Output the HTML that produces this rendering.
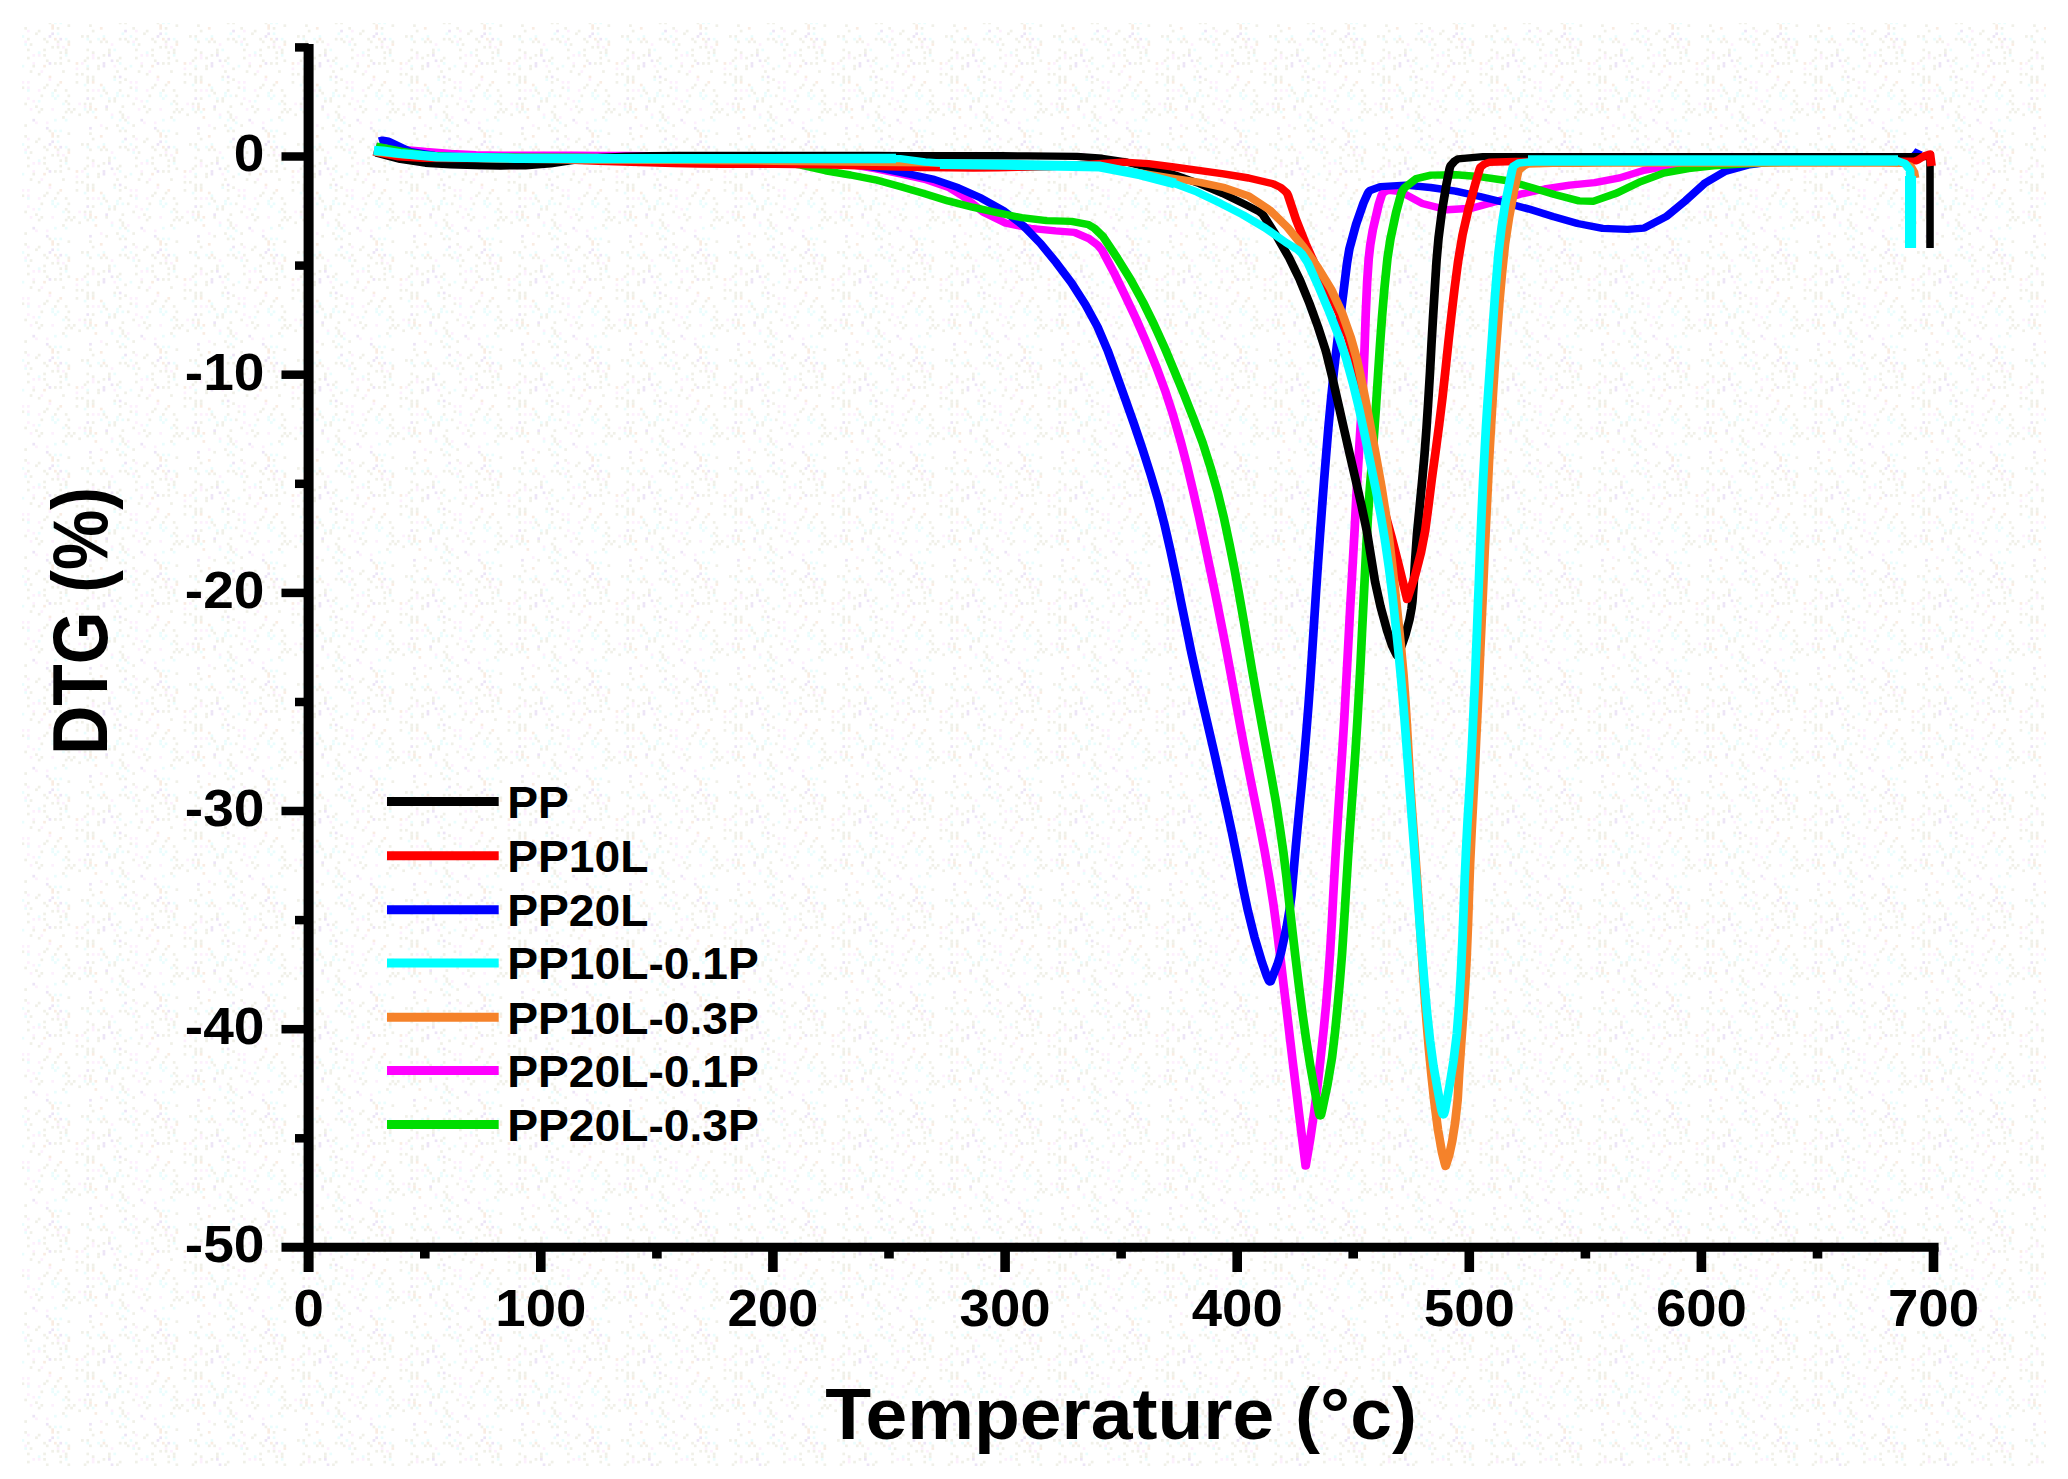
<!DOCTYPE html>
<html lang="en"><head><meta charset="utf-8"><title>DTG curves</title>
<style>
html,body{margin:0;padding:0;background:#fff;}
body{width:2068px;height:1479px;overflow:hidden;}
svg{display:block;}
</style></head><body>
<svg width="2068" height="1479" viewBox="0 0 2068 1479">
<defs><pattern id="dots" width="108.0" height="108.0" patternUnits="userSpaceOnUse"><rect x="29.7" y="0.0" width="2.7" height="2.7" fill="#fdf0fd"/><rect x="40.5" y="0.0" width="2.7" height="2.7" fill="#f0f0e8"/><rect x="51.3" y="0.0" width="2.7" height="2.7" fill="#fdf0fd"/><rect x="67.5" y="0.0" width="2.7" height="2.7" fill="#f0f0e8"/><rect x="72.9" y="0.0" width="2.7" height="2.7" fill="#f0f0e8"/><rect x="83.7" y="0.0" width="2.7" height="2.7" fill="#eafdfd"/><rect x="89.1" y="0.0" width="2.7" height="2.7" fill="#f0f0e8"/><rect x="94.5" y="0.0" width="2.7" height="2.7" fill="#f9ece2"/><rect x="105.3" y="0.0" width="2.7" height="2.7" fill="#f0f0e8"/><rect x="10.8" y="2.7" width="2.7" height="2.7" fill="#f0f0e8"/><rect x="37.8" y="2.7" width="2.7" height="2.7" fill="#f0f0e8"/><rect x="64.8" y="2.7" width="2.7" height="2.7" fill="#f0f0e8"/><rect x="70.2" y="2.7" width="2.7" height="2.7" fill="#f0f0e8"/><rect x="86.4" y="2.7" width="2.7" height="2.7" fill="#f0f0e8"/><rect x="91.8" y="2.7" width="2.7" height="2.7" fill="#eafdfd"/><rect x="2.7" y="5.4" width="2.7" height="2.7" fill="#fdf0fd"/><rect x="13.5" y="5.4" width="2.7" height="2.7" fill="#f0f0e8"/><rect x="78.3" y="5.4" width="2.7" height="2.7" fill="#f0f0e8"/><rect x="2.7" y="8.1" width="2.7" height="2.7" fill="#eafdfd"/><rect x="13.5" y="8.1" width="2.7" height="2.7" fill="#f0f0e8"/><rect x="18.9" y="8.1" width="2.7" height="2.7" fill="#fdf0fd"/><rect x="62.1" y="8.1" width="2.7" height="2.7" fill="#f0f0e8"/><rect x="94.5" y="8.1" width="2.7" height="2.7" fill="#f9ece2"/><rect x="10.8" y="10.8" width="2.7" height="2.7" fill="#eafdfd"/><rect x="16.2" y="10.8" width="2.7" height="2.7" fill="#f0f0e8"/><rect x="32.4" y="10.8" width="2.7" height="2.7" fill="#ece4f6"/><rect x="54.0" y="10.8" width="2.7" height="2.7" fill="#eafdfd"/><rect x="64.8" y="10.8" width="2.7" height="2.7" fill="#eafdfd"/><rect x="18.9" y="13.5" width="2.7" height="2.7" fill="#eafdfd"/><rect x="35.1" y="13.5" width="2.7" height="2.7" fill="#fdf0fd"/><rect x="45.9" y="13.5" width="2.7" height="2.7" fill="#fdf0fd"/><rect x="8.1" y="16.2" width="2.7" height="2.7" fill="#f0f0e8"/><rect x="24.3" y="16.2" width="2.7" height="2.7" fill="#f0f0e8"/><rect x="99.9" y="16.2" width="2.7" height="2.7" fill="#fdf0fd"/><rect x="13.5" y="18.9" width="2.7" height="2.7" fill="#eafdfd"/><rect x="45.9" y="18.9" width="2.7" height="2.7" fill="#ece4f6"/><rect x="89.1" y="18.9" width="2.7" height="2.7" fill="#ece4f6"/><rect x="105.3" y="18.9" width="2.7" height="2.7" fill="#f0f0e8"/><rect x="10.8" y="21.6" width="2.7" height="2.7" fill="#f0f0e8"/><rect x="16.2" y="21.6" width="2.7" height="2.7" fill="#f0f0e8"/><rect x="48.6" y="21.6" width="2.7" height="2.7" fill="#f0f0e8"/><rect x="54.0" y="21.6" width="2.7" height="2.7" fill="#eafdfd"/><rect x="59.4" y="21.6" width="2.7" height="2.7" fill="#eafdfd"/><rect x="51.3" y="24.3" width="2.7" height="2.7" fill="#f9ece2"/><rect x="67.5" y="24.3" width="2.7" height="2.7" fill="#f0f0e8"/><rect x="89.1" y="24.3" width="2.7" height="2.7" fill="#f0f0e8"/><rect x="24.3" y="27.0" width="2.7" height="2.7" fill="#f0f0e8"/><rect x="51.3" y="27.0" width="2.7" height="2.7" fill="#f9ece2"/><rect x="56.7" y="27.0" width="2.7" height="2.7" fill="#f0f0e8"/><rect x="99.9" y="27.0" width="2.7" height="2.7" fill="#f9ece2"/><rect x="16.2" y="29.7" width="2.7" height="2.7" fill="#ece4f6"/><rect x="27.0" y="29.7" width="2.7" height="2.7" fill="#fdf0fd"/><rect x="37.8" y="29.7" width="2.7" height="2.7" fill="#f0f0e8"/><rect x="91.8" y="29.7" width="2.7" height="2.7" fill="#f0f0e8"/><rect x="13.5" y="32.4" width="2.7" height="2.7" fill="#eafdfd"/><rect x="35.1" y="32.4" width="2.7" height="2.7" fill="#f0f0e8"/><rect x="51.3" y="32.4" width="2.7" height="2.7" fill="#ece4f6"/><rect x="56.7" y="32.4" width="2.7" height="2.7" fill="#eafdfd"/><rect x="21.6" y="35.1" width="2.7" height="2.7" fill="#eafdfd"/><rect x="48.6" y="35.1" width="2.7" height="2.7" fill="#ece4f6"/><rect x="81.0" y="35.1" width="2.7" height="2.7" fill="#f0f0e8"/><rect x="86.4" y="35.1" width="2.7" height="2.7" fill="#f0f0e8"/><rect x="102.6" y="35.1" width="2.7" height="2.7" fill="#eafdfd"/><rect x="10.8" y="37.8" width="2.7" height="2.7" fill="#f0f0e8"/><rect x="16.2" y="37.8" width="2.7" height="2.7" fill="#f0f0e8"/><rect x="27.0" y="37.8" width="2.7" height="2.7" fill="#f0f0e8"/><rect x="43.2" y="37.8" width="2.7" height="2.7" fill="#f0f0e8"/><rect x="54.0" y="37.8" width="2.7" height="2.7" fill="#f9ece2"/><rect x="59.4" y="37.8" width="2.7" height="2.7" fill="#ece4f6"/><rect x="64.8" y="37.8" width="2.7" height="2.7" fill="#eafdfd"/><rect x="86.4" y="37.8" width="2.7" height="2.7" fill="#eafdfd"/><rect x="97.2" y="37.8" width="2.7" height="2.7" fill="#eafdfd"/><rect x="102.6" y="37.8" width="2.7" height="2.7" fill="#f9ece2"/><rect x="18.9" y="40.5" width="2.7" height="2.7" fill="#f0f0e8"/><rect x="24.3" y="40.5" width="2.7" height="2.7" fill="#fdf0fd"/><rect x="45.9" y="40.5" width="2.7" height="2.7" fill="#f0f0e8"/><rect x="56.7" y="40.5" width="2.7" height="2.7" fill="#f0f0e8"/><rect x="67.5" y="40.5" width="2.7" height="2.7" fill="#f0f0e8"/><rect x="89.1" y="40.5" width="2.7" height="2.7" fill="#f0f0e8"/><rect x="99.9" y="40.5" width="2.7" height="2.7" fill="#f0f0e8"/><rect x="105.3" y="40.5" width="2.7" height="2.7" fill="#f0f0e8"/><rect x="2.7" y="43.2" width="2.7" height="2.7" fill="#fdf0fd"/><rect x="24.3" y="43.2" width="2.7" height="2.7" fill="#eafdfd"/><rect x="29.7" y="43.2" width="2.7" height="2.7" fill="#f0f0e8"/><rect x="56.7" y="43.2" width="2.7" height="2.7" fill="#fdf0fd"/><rect x="67.5" y="43.2" width="2.7" height="2.7" fill="#f9ece2"/><rect x="51.3" y="45.9" width="2.7" height="2.7" fill="#f0f0e8"/><rect x="56.7" y="45.9" width="2.7" height="2.7" fill="#f0f0e8"/><rect x="62.1" y="45.9" width="2.7" height="2.7" fill="#fdf0fd"/><rect x="0.0" y="48.6" width="2.7" height="2.7" fill="#f0f0e8"/><rect x="5.4" y="48.6" width="2.7" height="2.7" fill="#eafdfd"/><rect x="27.0" y="48.6" width="2.7" height="2.7" fill="#f0f0e8"/><rect x="43.2" y="48.6" width="2.7" height="2.7" fill="#f0f0e8"/><rect x="64.8" y="48.6" width="2.7" height="2.7" fill="#f0f0e8"/><rect x="86.4" y="48.6" width="2.7" height="2.7" fill="#f0f0e8"/><rect x="0.0" y="51.3" width="2.7" height="2.7" fill="#f0f0e8"/><rect x="37.8" y="51.3" width="2.7" height="2.7" fill="#eafdfd"/><rect x="59.4" y="51.3" width="2.7" height="2.7" fill="#f0f0e8"/><rect x="64.8" y="51.3" width="2.7" height="2.7" fill="#f0f0e8"/><rect x="91.8" y="51.3" width="2.7" height="2.7" fill="#f0f0e8"/><rect x="0.0" y="54.0" width="2.7" height="2.7" fill="#ece4f6"/><rect x="32.4" y="54.0" width="2.7" height="2.7" fill="#fdf0fd"/><rect x="37.8" y="54.0" width="2.7" height="2.7" fill="#fdf0fd"/><rect x="43.2" y="54.0" width="2.7" height="2.7" fill="#f0f0e8"/><rect x="64.8" y="54.0" width="2.7" height="2.7" fill="#eafdfd"/><rect x="91.8" y="54.0" width="2.7" height="2.7" fill="#fdf0fd"/><rect x="102.6" y="54.0" width="2.7" height="2.7" fill="#f0f0e8"/><rect x="10.8" y="56.7" width="2.7" height="2.7" fill="#f0f0e8"/><rect x="27.0" y="56.7" width="2.7" height="2.7" fill="#f0f0e8"/><rect x="59.4" y="56.7" width="2.7" height="2.7" fill="#f0f0e8"/><rect x="86.4" y="56.7" width="2.7" height="2.7" fill="#f0f0e8"/><rect x="91.8" y="56.7" width="2.7" height="2.7" fill="#fdf0fd"/><rect x="97.2" y="56.7" width="2.7" height="2.7" fill="#f0f0e8"/><rect x="2.7" y="59.4" width="2.7" height="2.7" fill="#ece4f6"/><rect x="8.1" y="59.4" width="2.7" height="2.7" fill="#f0f0e8"/><rect x="45.9" y="59.4" width="2.7" height="2.7" fill="#f0f0e8"/><rect x="67.5" y="59.4" width="2.7" height="2.7" fill="#f0f0e8"/><rect x="83.7" y="59.4" width="2.7" height="2.7" fill="#f0f0e8"/><rect x="10.8" y="62.1" width="2.7" height="2.7" fill="#eafdfd"/><rect x="32.4" y="62.1" width="2.7" height="2.7" fill="#fdf0fd"/><rect x="48.6" y="62.1" width="2.7" height="2.7" fill="#ece4f6"/><rect x="54.0" y="62.1" width="2.7" height="2.7" fill="#f0f0e8"/><rect x="59.4" y="62.1" width="2.7" height="2.7" fill="#f0f0e8"/><rect x="75.6" y="62.1" width="2.7" height="2.7" fill="#f9ece2"/><rect x="81.0" y="62.1" width="2.7" height="2.7" fill="#fdf0fd"/><rect x="102.6" y="62.1" width="2.7" height="2.7" fill="#ece4f6"/><rect x="5.4" y="64.8" width="2.7" height="2.7" fill="#fdf0fd"/><rect x="21.6" y="64.8" width="2.7" height="2.7" fill="#eafdfd"/><rect x="32.4" y="64.8" width="2.7" height="2.7" fill="#f0f0e8"/><rect x="43.2" y="64.8" width="2.7" height="2.7" fill="#f9ece2"/><rect x="86.4" y="64.8" width="2.7" height="2.7" fill="#eafdfd"/><rect x="97.2" y="64.8" width="2.7" height="2.7" fill="#f0f0e8"/><rect x="102.6" y="64.8" width="2.7" height="2.7" fill="#ece4f6"/><rect x="16.2" y="67.5" width="2.7" height="2.7" fill="#f0f0e8"/><rect x="75.6" y="67.5" width="2.7" height="2.7" fill="#fdf0fd"/><rect x="86.4" y="67.5" width="2.7" height="2.7" fill="#f0f0e8"/><rect x="97.2" y="67.5" width="2.7" height="2.7" fill="#f0f0e8"/><rect x="8.1" y="70.2" width="2.7" height="2.7" fill="#f0f0e8"/><rect x="29.7" y="70.2" width="2.7" height="2.7" fill="#f0f0e8"/><rect x="40.5" y="70.2" width="2.7" height="2.7" fill="#fdf0fd"/><rect x="62.1" y="70.2" width="2.7" height="2.7" fill="#f0f0e8"/><rect x="37.8" y="72.9" width="2.7" height="2.7" fill="#f0f0e8"/><rect x="75.6" y="72.9" width="2.7" height="2.7" fill="#f0f0e8"/><rect x="81.0" y="72.9" width="2.7" height="2.7" fill="#f0f0e8"/><rect x="5.4" y="75.6" width="2.7" height="2.7" fill="#f0f0e8"/><rect x="10.8" y="75.6" width="2.7" height="2.7" fill="#ece4f6"/><rect x="48.6" y="75.6" width="2.7" height="2.7" fill="#f9ece2"/><rect x="86.4" y="75.6" width="2.7" height="2.7" fill="#f0f0e8"/><rect x="91.8" y="75.6" width="2.7" height="2.7" fill="#f0f0e8"/><rect x="5.4" y="78.3" width="2.7" height="2.7" fill="#eafdfd"/><rect x="16.2" y="78.3" width="2.7" height="2.7" fill="#f0f0e8"/><rect x="48.6" y="78.3" width="2.7" height="2.7" fill="#fdf0fd"/><rect x="86.4" y="78.3" width="2.7" height="2.7" fill="#f0f0e8"/><rect x="91.8" y="78.3" width="2.7" height="2.7" fill="#f0f0e8"/><rect x="10.8" y="81.0" width="2.7" height="2.7" fill="#f0f0e8"/><rect x="21.6" y="81.0" width="2.7" height="2.7" fill="#fdf0fd"/><rect x="27.0" y="81.0" width="2.7" height="2.7" fill="#fdf0fd"/><rect x="59.4" y="81.0" width="2.7" height="2.7" fill="#f9ece2"/><rect x="75.6" y="81.0" width="2.7" height="2.7" fill="#f0f0e8"/><rect x="86.4" y="81.0" width="2.7" height="2.7" fill="#f0f0e8"/><rect x="91.8" y="81.0" width="2.7" height="2.7" fill="#f9ece2"/><rect x="45.9" y="83.7" width="2.7" height="2.7" fill="#f0f0e8"/><rect x="56.7" y="83.7" width="2.7" height="2.7" fill="#f0f0e8"/><rect x="83.7" y="83.7" width="2.7" height="2.7" fill="#eafdfd"/><rect x="99.9" y="83.7" width="2.7" height="2.7" fill="#f9ece2"/><rect x="21.6" y="86.4" width="2.7" height="2.7" fill="#f0f0e8"/><rect x="27.0" y="86.4" width="2.7" height="2.7" fill="#fdf0fd"/><rect x="43.2" y="86.4" width="2.7" height="2.7" fill="#f0f0e8"/><rect x="102.6" y="86.4" width="2.7" height="2.7" fill="#eafdfd"/><rect x="10.8" y="89.1" width="2.7" height="2.7" fill="#f0f0e8"/><rect x="27.0" y="89.1" width="2.7" height="2.7" fill="#eafdfd"/><rect x="37.8" y="89.1" width="2.7" height="2.7" fill="#fdf0fd"/><rect x="54.0" y="89.1" width="2.7" height="2.7" fill="#f0f0e8"/><rect x="64.8" y="89.1" width="2.7" height="2.7" fill="#f0f0e8"/><rect x="86.4" y="89.1" width="2.7" height="2.7" fill="#f0f0e8"/><rect x="91.8" y="89.1" width="2.7" height="2.7" fill="#fdf0fd"/><rect x="97.2" y="89.1" width="2.7" height="2.7" fill="#fdf0fd"/><rect x="102.6" y="89.1" width="2.7" height="2.7" fill="#f0f0e8"/><rect x="8.1" y="91.8" width="2.7" height="2.7" fill="#eafdfd"/><rect x="51.3" y="91.8" width="2.7" height="2.7" fill="#eafdfd"/><rect x="105.3" y="91.8" width="2.7" height="2.7" fill="#f0f0e8"/><rect x="8.1" y="94.5" width="2.7" height="2.7" fill="#eafdfd"/><rect x="13.5" y="94.5" width="2.7" height="2.7" fill="#eafdfd"/><rect x="18.9" y="94.5" width="2.7" height="2.7" fill="#f0f0e8"/><rect x="40.5" y="94.5" width="2.7" height="2.7" fill="#f0f0e8"/><rect x="51.3" y="94.5" width="2.7" height="2.7" fill="#eafdfd"/><rect x="56.7" y="94.5" width="2.7" height="2.7" fill="#eafdfd"/><rect x="67.5" y="94.5" width="2.7" height="2.7" fill="#f0f0e8"/><rect x="99.9" y="94.5" width="2.7" height="2.7" fill="#eafdfd"/><rect x="0.0" y="97.2" width="2.7" height="2.7" fill="#eafdfd"/><rect x="5.4" y="97.2" width="2.7" height="2.7" fill="#f0f0e8"/><rect x="27.0" y="97.2" width="2.7" height="2.7" fill="#fdf0fd"/><rect x="54.0" y="97.2" width="2.7" height="2.7" fill="#eafdfd"/><rect x="86.4" y="97.2" width="2.7" height="2.7" fill="#ece4f6"/><rect x="91.8" y="97.2" width="2.7" height="2.7" fill="#f0f0e8"/><rect x="0.0" y="99.9" width="2.7" height="2.7" fill="#f0f0e8"/><rect x="5.4" y="99.9" width="2.7" height="2.7" fill="#f0f0e8"/><rect x="32.4" y="99.9" width="2.7" height="2.7" fill="#fdf0fd"/><rect x="37.8" y="99.9" width="2.7" height="2.7" fill="#eafdfd"/><rect x="64.8" y="99.9" width="2.7" height="2.7" fill="#f0f0e8"/><rect x="24.3" y="102.6" width="2.7" height="2.7" fill="#f0f0e8"/><rect x="62.1" y="102.6" width="2.7" height="2.7" fill="#eafdfd"/><rect x="67.5" y="102.6" width="2.7" height="2.7" fill="#f0f0e8"/><rect x="78.3" y="102.6" width="2.7" height="2.7" fill="#fdf0fd"/><rect x="83.7" y="102.6" width="2.7" height="2.7" fill="#f0f0e8"/><rect x="89.1" y="102.6" width="2.7" height="2.7" fill="#f0f0e8"/><rect x="13.5" y="105.3" width="2.7" height="2.7" fill="#f0f0e8"/><rect x="35.1" y="105.3" width="2.7" height="2.7" fill="#f0f0e8"/><rect x="83.7" y="105.3" width="2.7" height="2.7" fill="#fdf0fd"/><rect x="89.1" y="105.3" width="2.7" height="2.7" fill="#f9ece2"/><rect x="105.3" y="105.3" width="2.7" height="2.7" fill="#ece4f6"/></pattern></defs>
<rect width="2068" height="1479" fill="#ffffff"/>
<rect x="22" y="23" width="2024" height="1443" fill="url(#dots)"/>
<g transform="scale(1.18,1)" fill="none" stroke-linejoin="round" stroke-linecap="butt" stroke-width="7.4">
<path d="M318.6,147.0 L339.8,149.1 L361.0,151.5 L382.2,153.4 L403.4,154.7 L424.6,155.1 L445.8,155.2 L466.9,155.3 L488.1,155.3 L509.3,155.4 L530.5,155.5 L551.7,155.7 L572.9,155.9 L594.1,156.1 L615.3,156.4 L636.4,156.8 L657.6,157.4 L678.8,158.0 L700.0,160.4 L721.2,164.5 L742.4,168.8 L763.1,174.0 L783.9,179.3 L804.2,187.6 L816.5,196.6 L833.5,212.2 L852.5,223.2 L873.3,228.3 L894.5,230.9 L910.6,232.4 L923.3,238.9 L930.1,244.9 L933.9,250.1 L944.1,272.7 L953.4,295.3 L962.7,318.6 L971.6,342.7 L979.7,366.2 L987.3,390.3 L994.1,414.8 L1000.4,440.5 L1005.9,465.2 L1011.0,490.4 L1016.1,516.9 L1020.8,542.5 L1025.4,568.5 L1030.1,595.0 L1034.3,619.9 L1038.6,645.7 L1042.8,672.4 L1046.6,697.0 L1050.8,724.3 L1055.0,750.7 L1059.3,776.5 L1063.5,801.4 L1067.8,826.6 L1071.9,852.1 L1075.8,878.8 L1079.2,904.5 L1082.2,930.6 L1085.2,958.7 L1087.7,984.0 L1090.3,1009.2 L1092.8,1034.3 L1095.3,1059.5 L1097.9,1084.4 L1100.8,1112.9 L1103.8,1140.9 L1106.5,1166.0 L1110.3,1139.5 L1113.7,1112.1 L1116.7,1084.5 L1119.2,1057.5 L1121.8,1029.4 L1123.9,1003.7 L1125.6,978.7 L1127.3,950.0 L1128.6,923.8 L1129.8,896.8 L1131.1,869.9 L1132.4,844.5 L1134.1,812.3 L1135.8,781.6 L1137.5,751.5 L1139.2,719.1 L1140.4,692.4 L1141.7,664.4 L1143.0,635.6 L1144.2,608.3 L1145.5,581.6 L1146.8,554.8 L1148.1,527.8 L1149.3,499.6 L1150.6,472.7 L1152.3,440.2 L1154.0,408.4 L1155.3,380.1 L1156.3,352.1 L1157.4,314.2 L1158.6,282.0 L1159.9,259.2 L1161.2,245.3 L1163.3,230.4 L1168.4,204.5 L1170.9,195.3 L1171.8,193.3 L1174.7,191.1 L1177.3,190.3 L1186.6,191.5 L1205.3,203.5 L1226.0,209.8 L1247.2,208.3 L1268.0,201.5 L1288.3,194.2 L1309.1,189.0 L1330.3,185.1 L1351.4,182.6 L1372.6,177.9 L1393.0,170.4 L1414.2,165.7 L1435.3,162.9 L1456.5,161.7 L1477.7,161.1 L1498.9,160.8 L1520.1,160.5 L1541.3,160.3 L1562.5,160.2 L1583.6,160.0 L1604.8,160.0 L1610.2,160.0" stroke="#ff00ff"/>
<path d="M321.2,141.0 L324.2,140.2 L329.2,141.1 L347.0,151.3 L368.2,155.5 L389.4,156.8 L410.6,157.3 L431.8,157.6 L453.0,157.8 L474.2,157.9 L495.3,158.0 L516.5,158.0 L537.7,158.1 L558.9,158.2 L580.1,158.4 L601.3,158.6 L622.5,158.9 L643.6,159.3 L664.8,159.9 L686.0,160.6 L707.2,162.0 L728.4,164.9 L749.6,169.1 L770.8,174.1 L791.5,179.3 L811.9,187.7 L831.4,198.1 L850.0,210.3 L866.9,225.4 L881.8,243.5 L895.3,262.9 L908.1,283.0 L919.9,304.8 L930.1,326.8 L938.6,350.2 L946.2,374.9 L953.8,399.8 L961.0,423.9 L968.2,449.0 L975.0,474.1 L981.4,499.5 L986.9,524.7 L991.9,550.5 L996.6,576.6 L1000.8,601.6 L1005.1,626.3 L1009.7,653.0 L1014.4,678.1 L1019.5,704.5 L1024.6,730.3 L1029.7,756.3 L1034.7,782.7 L1039.4,807.5 L1044.1,833.0 L1048.7,859.6 L1053.0,885.5 L1057.6,911.1 L1063.1,937.1 L1069.5,962.3 L1073.7,976.5 L1075.4,981.0 L1075.8,981.7 L1076.3,982.0 L1076.7,981.7 L1082.6,964.3 L1085.6,952.6 L1090.3,927.2 L1093.2,906.9 L1094.5,895.1 L1096.6,866.9 L1098.7,839.2 L1100.8,813.0 L1103.0,786.5 L1105.1,759.6 L1107.2,730.3 L1108.9,704.9 L1110.6,676.9 L1112.3,646.5 L1114.0,615.5 L1115.4,590.0 L1116.9,564.2 L1118.6,535.9 L1120.3,508.4 L1122.0,482.0 L1123.7,457.0 L1125.8,427.0 L1128.0,399.4 L1130.5,370.5 L1133.1,344.0 L1135.6,319.2 L1138.6,291.3 L1141.5,263.5 L1143.6,248.6 L1149.2,224.4 L1155.5,203.0 L1159.3,193.0 L1160.2,191.4 L1161.0,190.5 L1169.9,186.6 L1191.1,185.1 L1212.3,187.5 L1233.5,191.2 L1254.2,196.5 L1275.0,202.5 L1295.8,209.1 L1316.1,216.5 L1336.9,223.5 L1358.1,228.4 L1379.2,229.4 L1393.2,228.1 L1412.3,216.3 L1428.8,200.3 L1444.5,183.4 L1461.9,171.4 L1482.6,164.8 L1503.8,161.7 L1525.0,160.5 L1546.2,160.3 L1567.4,160.3 L1588.6,160.2 L1609.7,160.0 L1617.4,158.4 L1622.5,155.7 L1624.2,153.6 L1626.3,150.0" stroke="#0000ff"/>
<path d="M318.6,146.0 L339.8,151.1 L361.0,155.1 L382.2,156.5 L403.4,156.8 L424.6,157.0 L445.8,157.1 L466.9,157.1 L488.1,157.2 L509.3,157.4 L530.5,157.6 L551.7,157.8 L572.9,158.1 L594.1,158.5 L615.3,159.0 L636.4,159.7 L657.6,161.3 L678.8,165.2 L699.6,170.8 L720.8,175.0 L741.9,179.8 L762.7,186.5 L783.1,193.5 L803.4,200.9 L824.2,207.2 L844.9,212.6 L865.7,217.7 L886.9,220.6 L908.1,221.4 L922.5,224.7 L927.5,228.3 L934.7,236.5 L946.6,257.6 L958.1,279.5 L968.6,302.0 L978.0,324.5 L986.9,347.6 L995.3,371.2 L1003.4,394.4 L1011.4,418.3 L1019.1,442.4 L1025.8,467.1 L1031.8,491.8 L1037.3,518.3 L1041.9,544.0 L1046.2,569.3 L1050.0,593.9 L1053.8,619.4 L1057.6,645.9 L1061.4,672.2 L1065.3,698.1 L1069.1,722.9 L1073.3,750.0 L1077.5,777.0 L1081.4,802.8 L1084.7,828.2 L1087.7,853.0 L1090.3,877.9 L1092.6,902.8 L1095.3,931.4 L1097.9,957.6 L1100.8,986.2 L1103.8,1013.6 L1106.8,1038.8 L1110.2,1064.2 L1114.0,1089.5 L1117.8,1113.0 L1118.2,1114.9 L1118.6,1115.9 L1118.8,1116.0 L1119.1,1115.8 L1119.5,1114.9 L1120.3,1111.1 L1125.0,1084.6 L1128.8,1057.8 L1131.4,1032.0 L1133.5,1007.0 L1135.6,979.3 L1137.3,954.3 L1139.0,923.0 L1140.7,890.3 L1142.2,861.4 L1143.6,836.2 L1145.3,807.9 L1147.0,780.1 L1148.7,751.4 L1150.4,719.3 L1151.7,692.0 L1153.0,663.5 L1154.2,633.6 L1155.5,603.0 L1156.8,572.4 L1158.1,541.8 L1159.3,516.1 L1160.8,490.0 L1162.7,461.8 L1164.4,435.1 L1166.1,406.8 L1167.8,375.4 L1169.5,344.7 L1171.2,316.7 L1173.3,287.5 L1175.8,258.5 L1178.4,238.6 L1183.1,212.6 L1187.3,194.2 L1188.1,191.5 L1190.3,187.8 L1200.4,178.6 L1212.7,175.1 L1233.9,174.7 L1255.1,176.8 L1276.3,180.5 L1297.0,187.2 L1317.4,194.5 L1338.1,200.9 L1350.0,201.3 L1370.3,193.0 L1389.8,181.9 L1409.7,173.2 L1430.9,168.6 L1452.1,165.8 L1473.3,164.2 L1494.5,163.0 L1515.7,162.3 L1536.9,161.8 L1558.1,161.5 L1579.2,161.2 L1600.4,161.0 L1610.2,161.0" stroke="#00dd00"/>
<path d="M318.6,153.0 L339.4,159.4 L360.6,163.2 L381.8,164.8 L403.0,165.6 L424.2,166.0 L445.3,165.7 L466.5,163.9 L487.7,160.2 L508.9,157.4 L530.1,156.1 L551.3,155.7 L572.5,155.5 L593.6,155.5 L615.3,155.5 L636.9,155.5 L658.5,155.5 L679.7,155.5 L700.8,155.5 L722.0,155.5 L743.2,155.5 L764.4,155.6 L785.6,155.6 L806.8,155.7 L828.0,155.7 L849.2,155.8 L870.3,155.9 L891.5,156.1 L912.7,156.4 L933.9,158.3 L955.1,162.2 L975.8,168.2 L996.2,175.2 L1016.5,183.7 L1036.4,193.6 L1055.5,204.6 L1067.4,211.8 L1070.3,214.7 L1081.8,235.9 L1092.4,257.7 L1101.7,280.2 L1109.7,303.4 L1117.0,327.0 L1123.7,351.4 L1129.2,377.9 L1133.9,402.5 L1139.0,429.1 L1143.7,453.5 L1148.7,479.0 L1153.8,505.6 L1158.5,532.2 L1161.9,557.0 L1165.3,581.7 L1169.9,606.4 L1175.8,631.8 L1179.7,645.5 L1183.1,653.9 L1183.9,655.5 L1187.7,646.2 L1191.1,634.6 L1194.5,619.5 L1196.2,608.5 L1197.0,601.0 L1197.9,586.6 L1199.2,561.5 L1200.8,534.6 L1203.0,507.9 L1205.1,482.4 L1207.2,454.7 L1208.9,428.3 L1210.3,402.8 L1211.9,371.4 L1213.1,344.7 L1214.4,318.0 L1215.7,292.9 L1217.4,260.9 L1219.1,238.0 L1222.0,211.1 L1225.8,184.3 L1228.4,169.1 L1228.8,167.2 L1229.4,165.5 L1232.6,161.2 L1235.6,158.9 L1256.8,156.6 L1278.4,156.6 L1300.0,156.6 L1321.6,156.6 L1343.2,156.6 L1364.8,156.6 L1386.4,156.6 L1408.1,156.6 L1429.7,156.6 L1451.3,156.6 L1472.9,156.6 L1494.5,156.6 L1516.1,156.6 L1537.7,156.6 L1559.3,156.6 L1580.9,156.6 L1602.5,156.6 L1624.2,156.6 L1638.6,156.6" stroke="#000000"/>
<path d="M1635.6,152.1 L1635.6,248" stroke="#000" stroke-width="6.4"/>
<path d="M316.5,152.0 L337.7,156.9 L358.9,158.3 L380.1,158.5 L401.3,158.6 L422.5,158.6 L443.6,158.7 L464.8,159.0 L486.0,160.2 L507.2,161.2 L528.4,162.0 L549.6,162.8 L570.8,163.5 L591.9,164.0 L613.1,164.2 L634.3,164.3 L655.5,164.3 L676.7,164.5 L697.9,164.9 L719.1,165.6 L740.3,166.3 L761.4,167.0 L782.6,167.5 L803.8,167.9 L825.0,168.0 L846.2,167.7 L867.4,167.3 L888.6,166.7 L909.7,165.2 L930.9,163.6 L952.1,162.1 L973.3,163.6 L994.5,167.0 L1015.7,170.4 L1036.9,173.9 L1058.1,178.0 L1078.8,183.8 L1085.2,187.4 L1089.8,192.0 L1090.7,193.2 L1091.5,195.3 L1098.3,219.5 L1106.4,243.5 L1115.3,266.9 L1125.4,289.3 L1134.7,312.9 L1142.4,336.8 L1147.5,357.0 L1152.1,382.2 L1156.4,408.5 L1160.2,436.1 L1164.0,462.0 L1168.2,487.2 L1173.5,512.0 L1179.2,536.6 L1184.5,561.1 L1189.8,586.6 L1192.5,599.5 L1199.2,575.6 L1204.3,552.1 L1207.8,530.7 L1210.7,504.6 L1213.5,478.0 L1216.6,451.7 L1219.6,424.9 L1222.5,397.0 L1225.1,368.6 L1227.6,340.6 L1230.2,313.3 L1232.7,288.3 L1235.7,261.2 L1239.5,234.6 L1244.6,208.3 L1250.5,182.8 L1253.9,169.3 L1254.7,167.1 L1258.1,164.0 L1262.4,162.2 L1283.6,161.5 L1305.2,161.5 L1326.8,161.5 L1348.4,161.5 L1370.0,161.5 L1391.6,161.5 L1413.2,161.5 L1434.8,161.5 L1456.0,161.5 L1477.2,161.5 L1498.4,161.5 L1519.6,161.5 L1540.8,161.4 L1561.9,161.3 L1583.1,161.3 L1604.3,161.1 L1623.4,160.9 L1625.5,159.9 L1630.6,156.0 L1635.6,154.0 L1636.9,166.0" stroke="#ff0000"/>
<path d="M317.8,152.0 L339.0,154.5 L360.2,156.4 L381.4,157.5 L402.5,158.2 L423.7,158.7 L444.9,159.2 L466.1,159.5 L487.3,159.8 L508.5,160.0 L529.7,160.1 L550.8,160.3 L572.0,160.4 L593.2,160.5 L614.4,160.7 L635.6,160.9 L656.8,161.2 L678.0,161.5 L699.2,161.8 L720.3,162.0 L741.5,162.3 L762.7,162.6 L783.9,162.9 L805.1,163.2 L826.3,163.6 L847.5,164.0 L868.6,164.5 L889.8,165.0 L911.0,165.8 L932.2,167.0 L953.4,170.3 L974.6,174.7 L995.8,178.7 L1016.9,182.3 L1037.7,187.7 L1058.1,196.0 L1075.8,209.8 L1091.1,227.4 L1104.7,247.1 L1116.9,267.6 L1128.0,289.1 L1137.3,312.8 L1144.5,336.7 L1150.0,359.7 L1154.7,385.5 L1158.9,410.6 L1163.1,437.0 L1166.9,461.6 L1170.8,487.4 L1174.2,513.0 L1177.1,538.5 L1179.7,563.5 L1182.2,590.0 L1184.7,617.6 L1187.3,647.3 L1189.4,674.6 L1191.1,702.0 L1192.7,733.5 L1194.1,762.6 L1195.3,788.2 L1196.9,815.0 L1198.7,843.1 L1200.4,870.8 L1202.1,901.3 L1203.8,932.7 L1205.4,962.8 L1207.2,994.1 L1208.9,1021.0 L1211.0,1049.9 L1213.1,1075.4 L1215.5,1101.5 L1218.6,1129.5 L1222.0,1152.2 L1224.6,1164.4 L1225.1,1166.4 L1228.1,1155.3 L1230.6,1141.7 L1233.1,1123.1 L1235.3,1099.9 L1236.5,1074.8 L1238.2,1045.2 L1239.9,1017.1 L1241.6,986.6 L1242.9,959.1 L1244.2,920.2 L1245.0,891.4 L1245.8,864.9 L1247.1,832.3 L1248.4,802.8 L1249.7,773.3 L1250.9,742.0 L1252.2,710.3 L1253.3,682.8 L1254.3,655.6 L1255.6,621.5 L1256.9,587.7 L1258.1,554.7 L1259.4,522.0 L1260.7,490.5 L1261.9,460.9 L1263.2,433.7 L1264.5,407.7 L1265.8,382.8 L1267.5,352.3 L1269.2,325.5 L1270.8,300.2 L1273.0,271.6 L1275.5,243.5 L1278.9,217.1 L1283.1,190.5 L1286.5,171.8 L1287.0,170.4 L1291.2,166.1 L1295.0,164.0 L1316.2,163.3 L1337.4,163.2 L1358.6,163.1 L1379.7,163.1 L1400.9,163.0 L1422.1,163.0 L1443.3,163.0 L1464.9,163.0 L1486.5,163.0 L1508.1,163.0 L1529.7,163.0 L1551.4,163.0 L1573.0,163.0 L1594.6,163.0 L1612.4,163.2 L1618.7,166.1 L1619.6,167.0 L1622.0,172.0 L1622.9,178.0" stroke="#f5822a"/>
<path d="M316.9,150.5 L338.1,153.4 L359.3,156.1 L380.5,157.3 L401.7,157.8 L422.9,158.2 L444.1,158.3 L465.3,158.5 L486.4,158.5 L507.6,158.6 L528.8,158.6 L550.0,158.6 L571.2,158.6 L592.4,158.6 L613.6,158.5 L634.7,158.5 L655.9,158.5 L677.1,158.5 L698.3,158.5 L719.9,158.5 L741.5,158.5 L762.7,158.6 L783.9,162.0 L805.1,163.8 L826.3,164.1 L847.5,164.5 L868.6,164.8 L889.8,165.2 L911.0,165.6 L932.2,166.4 L953.4,170.6 L974.2,176.6 L994.9,183.3 L1014.8,192.2 L1034.3,203.3 L1053.4,214.9 L1072.0,227.9 L1089.8,242.5 L1100.0,250.0 L1103.4,253.9 L1108.5,263.3 L1117.4,286.5 L1125.8,310.0 L1133.9,334.3 L1140.7,358.2 L1146.6,383.6 L1151.7,408.3 L1156.4,434.2 L1161.0,461.0 L1165.7,488.0 L1169.9,513.8 L1173.7,540.3 L1177.1,568.1 L1180.1,596.1 L1182.6,623.5 L1185.2,652.4 L1187.3,678.2 L1189.4,706.8 L1191.2,733.5 L1193.2,765.0 L1194.9,792.7 L1196.6,820.1 L1198.3,846.5 L1200.0,873.3 L1201.7,900.6 L1203.4,927.4 L1205.1,953.5 L1207.2,983.8 L1209.3,1011.7 L1211.9,1040.4 L1214.8,1065.8 L1218.6,1091.4 L1221.6,1110.3 L1222.5,1113.9 L1222.9,1114.8 L1223.1,1115.0 L1223.3,1114.9 L1223.7,1114.1 L1224.6,1110.5 L1228.4,1085.8 L1231.8,1060.7 L1234.6,1033.8 L1236.4,1006.5 L1238.1,972.2 L1239.4,938.0 L1240.3,910.9 L1241.1,883.8 L1242.4,850.2 L1243.6,823.0 L1244.9,798.0 L1246.2,771.9 L1247.5,743.1 L1248.7,712.4 L1249.9,682.8 L1250.8,655.1 L1251.7,630.0 L1252.5,604.2 L1253.4,578.2 L1254.2,552.4 L1255.5,515.4 L1256.8,481.5 L1258.1,452.6 L1259.3,427.0 L1261.0,396.0 L1262.7,366.6 L1264.4,338.1 L1266.1,309.4 L1267.8,283.1 L1269.9,253.2 L1272.5,227.5 L1275.8,202.6 L1280.1,177.6 L1281.8,168.5 L1282.2,167.0 L1282.7,166.0 L1286.9,163.0 L1308.1,160.4 L1329.7,160.4 L1351.3,160.4 L1372.9,160.4 L1394.5,160.4 L1416.1,160.4 L1437.7,160.4 L1459.3,160.4 L1480.9,160.4 L1502.5,160.4 L1524.2,160.4 L1545.8,160.4 L1567.4,160.4 L1589.0,160.4 L1607.2,160.5 L1614.4,163.5 L1618.6,170.0 L1619.1,180.0 L1619.1,248.0" stroke="#00ffff"/>
<path d="M316.9,150.5 L324.6,151.2 L339.0,153.5 L370.3,156.9 L436.4,158.3 L517.8,158.6 L759.3,158.5" stroke="#00ffff" stroke-width="9.3"/>
<path d="M796.6,164 L848.3,164.8 L932.2,166.6 L966.6,174.5 L995.8,183.5" stroke="#00ffff" stroke-width="10"/>
<path d="M1294.9,160.6 L1608.5,160.6" stroke="#00ffff" stroke-width="10.5"/>
<path d="M1619.1,176 L1619.1,248" stroke="#00ffff" stroke-width="9.4"/>
</g>
<g stroke="#000" fill="none">
<line x1="308.6" y1="44" x2="308.6" y2="1272" stroke-width="10"/>
<line x1="281.5" y1="1247.3" x2="1938.6" y2="1247.3" stroke-width="9"/>
<line x1="295" y1="47.4" x2="308.6" y2="47.4" stroke-width="8.5"/>
<line x1="281.5" y1="156.5" x2="308.6" y2="156.5" stroke-width="8.5"/>
<line x1="295" y1="265.6" x2="308.6" y2="265.6" stroke-width="8.5"/>
<line x1="281.5" y1="374.7" x2="308.6" y2="374.7" stroke-width="8.5"/>
<line x1="295" y1="483.8" x2="308.6" y2="483.8" stroke-width="8.5"/>
<line x1="281.5" y1="592.9" x2="308.6" y2="592.9" stroke-width="8.5"/>
<line x1="295" y1="702.0" x2="308.6" y2="702.0" stroke-width="8.5"/>
<line x1="281.5" y1="811.0" x2="308.6" y2="811.0" stroke-width="8.5"/>
<line x1="295" y1="920.1" x2="308.6" y2="920.1" stroke-width="8.5"/>
<line x1="281.5" y1="1029.2" x2="308.6" y2="1029.2" stroke-width="8.5"/>
<line x1="295" y1="1138.3" x2="308.6" y2="1138.3" stroke-width="8.5"/>
<line x1="424.8" y1="1247.3" x2="424.8" y2="1258.5" stroke-width="9.6"/>
<line x1="540.8" y1="1247.3" x2="540.8" y2="1272" stroke-width="9.6"/>
<line x1="656.9" y1="1247.3" x2="656.9" y2="1258.5" stroke-width="9.6"/>
<line x1="772.9" y1="1247.3" x2="772.9" y2="1272" stroke-width="9.6"/>
<line x1="889.0" y1="1247.3" x2="889.0" y2="1258.5" stroke-width="9.6"/>
<line x1="1005.1" y1="1247.3" x2="1005.1" y2="1272" stroke-width="9.6"/>
<line x1="1121.1" y1="1247.3" x2="1121.1" y2="1258.5" stroke-width="9.6"/>
<line x1="1237.2" y1="1247.3" x2="1237.2" y2="1272" stroke-width="9.6"/>
<line x1="1353.2" y1="1247.3" x2="1353.2" y2="1258.5" stroke-width="9.6"/>
<line x1="1469.3" y1="1247.3" x2="1469.3" y2="1272" stroke-width="9.6"/>
<line x1="1585.4" y1="1247.3" x2="1585.4" y2="1258.5" stroke-width="9.6"/>
<line x1="1701.4" y1="1247.3" x2="1701.4" y2="1272" stroke-width="9.6"/>
<line x1="1817.5" y1="1247.3" x2="1817.5" y2="1258.5" stroke-width="9.6"/>
<line x1="1933.5" y1="1247.3" x2="1933.5" y2="1272" stroke-width="9.6"/>
</g>
<g font-family="Liberation Sans, Arial, sans-serif" font-weight="bold" fill="#000">
<text transform="translate(308.7,1326.4) scale(1.06,1)" font-size="51.5" text-anchor="middle">0</text>
<text transform="translate(540.8,1326.4) scale(1.06,1)" font-size="51.5" text-anchor="middle">100</text>
<text transform="translate(772.9,1326.4) scale(1.06,1)" font-size="51.5" text-anchor="middle">200</text>
<text transform="translate(1005.1,1326.4) scale(1.06,1)" font-size="51.5" text-anchor="middle">300</text>
<text transform="translate(1237.2,1326.4) scale(1.06,1)" font-size="51.5" text-anchor="middle">400</text>
<text transform="translate(1469.3,1326.4) scale(1.06,1)" font-size="51.5" text-anchor="middle">500</text>
<text transform="translate(1701.4,1326.4) scale(1.06,1)" font-size="51.5" text-anchor="middle">600</text>
<text transform="translate(1933.5,1326.4) scale(1.06,1)" font-size="51.5" text-anchor="middle">700</text>
<text transform="translate(264.5,171.3) scale(1.07,1)" font-size="51.5" text-anchor="end">0</text>
<text transform="translate(264.5,389.5) scale(1.07,1)" font-size="51.5" text-anchor="end">-10</text>
<text transform="translate(264.5,607.7) scale(1.07,1)" font-size="51.5" text-anchor="end">-20</text>
<text transform="translate(264.5,825.8) scale(1.07,1)" font-size="51.5" text-anchor="end">-30</text>
<text transform="translate(264.5,1044.0) scale(1.07,1)" font-size="51.5" text-anchor="end">-40</text>
<text transform="translate(264.5,1262.2) scale(1.07,1)" font-size="51.5" text-anchor="end">-50</text>
<text transform="translate(1121,1439) scale(1.05,1)" font-size="71.5" text-anchor="middle">Temperature (°c)</text>
<text transform="translate(107.2,621) rotate(-90) scale(0.876,1)" font-size="77.5" text-anchor="middle">DTG (%)</text>
<line x1="387" y1="801.6" x2="498.7" y2="801.6" stroke="#000000" stroke-width="9"/>
<text transform="translate(507.3,817.8) scale(1.054,1)" font-size="43.8">PP</text>
<line x1="387" y1="855.7" x2="498.7" y2="855.7" stroke="#ff0000" stroke-width="9"/>
<text transform="translate(507.3,871.9) scale(1.054,1)" font-size="43.8">PP10L</text>
<line x1="387" y1="909.7" x2="498.7" y2="909.7" stroke="#0000ff" stroke-width="9"/>
<text transform="translate(507.3,925.9) scale(1.054,1)" font-size="43.8">PP20L</text>
<line x1="387" y1="963" x2="498.7" y2="963" stroke="#00ffff" stroke-width="9"/>
<text transform="translate(507.3,979.2) scale(1.054,1)" font-size="43.8">PP10L-0.1P</text>
<line x1="387" y1="1017.3" x2="498.7" y2="1017.3" stroke="#f5822a" stroke-width="9"/>
<text transform="translate(507.3,1033.5) scale(1.054,1)" font-size="43.8">PP10L-0.3P</text>
<line x1="387" y1="1070.6" x2="498.7" y2="1070.6" stroke="#ff00ff" stroke-width="9"/>
<text transform="translate(507.3,1086.8) scale(1.054,1)" font-size="43.8">PP20L-0.1P</text>
<line x1="387" y1="1124.6" x2="498.7" y2="1124.6" stroke="#00dd00" stroke-width="9"/>
<text transform="translate(507.3,1140.8) scale(1.054,1)" font-size="43.8">PP20L-0.3P</text>
</g>
</svg>
</body></html>
